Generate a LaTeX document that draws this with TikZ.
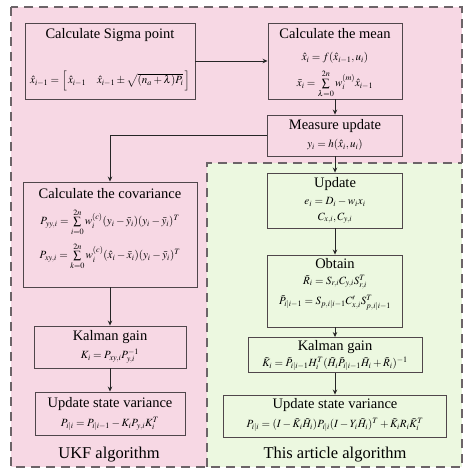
\documentclass[tikz,border=0pt]{standalone}
\usepackage{mathptmx}
\usepackage[no-math]{fontspec}
\setmainfont{Liberation Serif}
\usetikzlibrary{arrows.meta}
\definecolor{pinkbg}{RGB}{247,216,228}
\definecolor{greenbg}{RGB}{236,248,224}
\definecolor{dashc}{RGB}{108,100,104}
\definecolor{boxc}{RGB}{80,70,75}
\begin{document}
\begin{tikzpicture}[x=1pt,y=-1pt,
  box/.style={draw=boxc, line width=0.9pt, inner sep=0pt},
  ttl/.style={font=\fontsize{14.5}{16}\selectfont, inner sep=0pt},
  eq/.style={font=\fontsize{11}{13}\selectfont, inner sep=0pt},
  lbl/.style={font=\fontsize{16.5}{18}\selectfont, inner sep=0pt},
  arr/.style={draw=black!85, line width=0.8pt, -{Stealth[length=5pt,width=4.5pt]}},
  region/.style={draw=dashc, line width=1.5pt, dash pattern=on 9pt off 6pt}]
\useasboundingbox (0,0) rectangle (474,474);
\fill[pinkbg] (11,7) rectangle (462,467);
\fill[greenbg] (207,163) rectangle (462,467);
\draw[region] (11,7) rectangle (462,467);
\draw[region] (207,467) -- (207,163) -- (462,163);

% boxes
\node[box, minimum width=170pt, minimum height=76pt] (sig) at (110,61) {};
\node[box, minimum width=134pt, minimum height=76pt] (mean) at (335,61) {};
\node[box, minimum width=135pt, minimum height=41pt] (meas) at (335,135.5) {};
\node[box, minimum width=174pt, minimum height=105pt] (cov) at (110,234.5) {};
\node[box, minimum width=152pt, minimum height=42pt] (kl) at (110,347) {};
\node[box, minimum width=150pt, minimum height=43pt] (upl) at (110,413.5) {};
\node[box, minimum width=135pt, minimum height=55pt] (upd) at (335,200.5) {};
\node[box, minimum width=135pt, minimum height=72pt] (obt) at (335,291) {};
\node[box, minimum width=174pt, minimum height=35pt] (kr) at (335,355) {};
\node[box, minimum width=223pt, minimum height=42pt] (upr) at (335,416) {};

% texts
\node[ttl] (t1) at (110,35) {Calculate Sigma point};
\node[eq] (e1) at (110,81) {$\hat{x}_{i-1}=\left[\,\hat{x}_{i-1}\quad \hat{x}_{i-1}\pm\sqrt{(n_a+\lambda)P_i}\,\right]$};
\node[ttl] (t2) at (335,34) {Calculate the mean};
\node[eq] (e2) at (335,58) {$\hat{x}_i=f(\hat{x}_{i-1},u_i)$};
\node[eq] (e3) at (335,84) {$\bar{x}_i=\sum\limits_{\lambda=0}^{2n}w_i^{(m)}\hat{x}_{i-1}$};
\node[ttl] (t3) at (335,126) {Measure update};
\node[eq] (e4) at (335,145) {$y_i=h(\hat{x}_i,u_i)$};
\node[ttl] (t4) at (110,194) {Calculate the covariance};
\node[eq] (e5) at (110,222) {$P_{yy,i}=\sum\limits_{i=0}^{2n}w_i^{(c)}(y_i-\bar{y}_i)(y_i-\bar{y}_i)^T$};
\node[eq] (e6) at (110,256) {$P_{xy,i}=\sum\limits_{k=0}^{2n}w_i^{(c)}(\hat{x}_i-\bar{x}_i)(y_i-\bar{y}_i)^T$};
\node[ttl] (t5) at (110,337) {Kalman gain};
\node[eq] (e7) at (110,356) {$K_i=P_{xy,i}P_{y,i}^{-1}$};
\node[ttl] (t6) at (110,404) {Update state variance};
\node[eq] (e8) at (110,424) {$P_{i|i}=P_{i|i-1}-K_iP_{y,i}K_i^T$};
\node[lbl] (l1) at (109,455) {UKF algorithm};

\node[ttl] (t7) at (335,184) {Update};
\node[eq] (e9) at (335,202) {$e_i=D_i-w_ix_i$};
\node[eq] (e10) at (335,218) {$C_{x,i},C_{y,i}$};
\node[ttl] (t8) at (335,264) {Obtain};
\node[eq] (e11) at (335,282) {$\tilde{R}_i=S_{r,i}C_{y,i}S_{r,i}^T$};
\node[eq] (e12) at (335,303) {$\tilde{P}_{i|i-1}=S_{p,i|i-1}C_{x,i}'S_{p,i|i-1}^T$};
\node[ttl] (t9) at (335,347) {Kalman gain};
\node[eq] (e13) at (335,364) {$\tilde{K}_i=\tilde{P}_{i|i-1}H_i^T(\tilde{H}_i\tilde{P}_{i|i-1}\tilde{H}_i+\tilde{R}_i)^{-1}$};
\node[ttl] (t10) at (335,405) {Update state variance};
\node[eq] (e14) at (335,425) {$P_{i|i}=(I-\tilde{K}_i\tilde{H}_i)P_{i|i}(I-Y_i\tilde{H}_i)^T+\tilde{K}_iR_i\tilde{K}_i^T$};
\node[lbl] (l2) at (335,455) {This article algorithm};

% connectors
\draw[arr] (sig) -- (mean);
\draw[arr] (mean) -- (meas);
\draw[arr] (meas.west) -| (cov.north);
\draw[arr] (cov) -- (kl);
\draw[arr] (kl) -- (upl);
\draw[arr] (meas) -- (upd);
\draw[arr] (upd) -- (obt);
\draw[arr] (obt) -- (kr);
\draw[arr] (kr) -- (upr);
\end{tikzpicture}
\end{document}
